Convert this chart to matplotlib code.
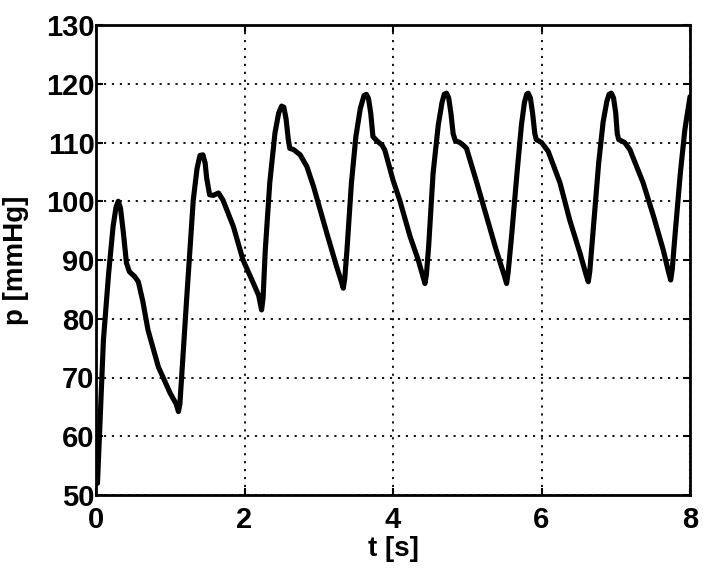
import matplotlib
matplotlib.use("Agg")
import matplotlib.pyplot as plt

t = [0.0, 0.02, 0.05, 0.10, 0.17, 0.23, 0.27, 0.30, 0.33, 0.37, 0.41, 0.45, 0.52, 0.57, 0.63, 0.70, 0.84, 1.00, 1.08, 1.11, 1.13,
     1.22, 1.31, 1.36, 1.40, 1.44, 1.47, 1.49, 1.53, 1.58, 1.65, 1.71, 1.85, 1.98, 2.10, 2.19, 2.23, 2.25,
     2.28, 2.34, 2.41, 2.46, 2.50, 2.53, 2.56, 2.59, 2.61, 2.66, 2.75, 2.84, 2.93, 3.11, 3.24, 3.30, 3.33, 3.35,
     3.38, 3.44, 3.50, 3.56, 3.61, 3.64, 3.67, 3.70, 3.73, 3.79, 3.85, 3.89, 4.00, 4.09, 4.23, 4.34, 4.40, 4.43, 4.45,
     4.48, 4.54, 4.61, 4.66, 4.69, 4.72, 4.75, 4.78, 4.81, 4.84, 4.90, 4.95, 4.99, 5.13, 5.26, 5.39, 5.50, 5.53, 5.55,
     5.60, 5.67, 5.73, 5.77, 5.80, 5.82, 5.85, 5.88, 5.91, 5.93, 6.00, 6.09, 6.25, 6.38, 6.52, 6.60, 6.63, 6.65,
     6.70, 6.77, 6.83, 6.88, 6.91, 6.94, 6.97, 7.00, 7.02, 7.04, 7.12, 7.19, 7.37, 7.51, 7.64, 7.71, 7.74, 7.76,
     7.80, 7.87, 7.93, 8.0]
p = [54.0, 52.0, 61.0, 76.4, 87.7, 95.7, 99.0, 100.0, 98.8, 94.5, 89.5, 88.0, 87.2, 86.3, 83.0, 78.1, 71.8, 67.3, 65.5, 64.2, 65.5,
     83.2, 100.2, 105.5, 107.8, 107.9, 106.5, 104.0, 101.1, 101.0, 101.4, 100.2, 95.7, 90.0, 86.6, 84.0, 81.5, 83.5,
     91.7, 103.1, 111.6, 115.0, 116.2, 116.0, 114.0, 110.5, 109.0, 108.8, 107.9, 105.9, 102.5, 94.5, 88.9, 86.5, 85.2, 86.8,
     91.7, 103.1, 111.0, 115.8, 118.0, 118.2, 117.5, 115.0, 111.0, 110.2, 109.6, 108.7, 103.6, 100.2, 94.0, 90.0, 87.3, 86.0, 87.5,
     92.3, 104.8, 113.0, 116.8, 118.2, 118.4, 117.6, 115.0, 111.5, 110.3, 110.0, 109.5, 109.0, 103.1, 97.4, 91.7, 87.3, 86.0, 87.8,
     94.5, 104.8, 113.0, 116.8, 118.2, 118.4, 117.6, 115.0, 111.5, 110.5, 110.0, 108.5, 103.1, 96.8, 91.1, 87.5, 86.3, 88.0,
     95.7, 106.5, 113.5, 117.0, 118.2, 118.4, 117.6, 115.0, 111.5, 110.5, 110.0, 108.8, 103.1, 97.4, 91.7, 88.0, 86.6, 88.3,
     94.5, 104.8, 112.1, 117.8]

xticks = [0, 2, 4, 6, 8]
yticks = [50, 60, 70, 80, 90, 100, 110, 120, 130]

plt.rcParams['font.family'] = ['Liberation Sans', 'DejaVu Sans']
plt.rcParams['font.weight'] = 'bold'

fig = plt.figure(figsize=(7.11, 5.87), dpi=100)
ax = fig.add_axes([96/711, 1 - 495/587, (690 - 96)/711, (495 - 25)/587])

ax.plot(t, p, color='black', lw=3.7, solid_joinstyle='round', solid_capstyle='round', zorder=3)

ax.set_xlim(0, 8)
ax.set_ylim(50, 130)
ax.set_xticks(xticks)
ax.set_yticks(yticks)
ax.grid(True, color='black', linestyle=(0, (1.2, 3.2)), lw=1.3)

for s in ax.spines.values():
    s.set_linewidth(2.0)

ax.tick_params(axis='both', direction='in', length=5, width=1.5, top=True, right=True,
               labelsize=21)
ax.tick_params(axis='x', pad=8)
ax.tick_params(axis='y', pad=1)
for lab in ax.get_xticklabels() + ax.get_yticklabels():
    lab.set_fontweight('bold')

ax.set_xlabel('t [s]', fontsize=20, fontweight='bold', labelpad=1)
ax.set_ylabel('p [mmHg]', fontsize=20, fontweight='bold', labelpad=12)

fig.savefig('out.png', dpi=100)
